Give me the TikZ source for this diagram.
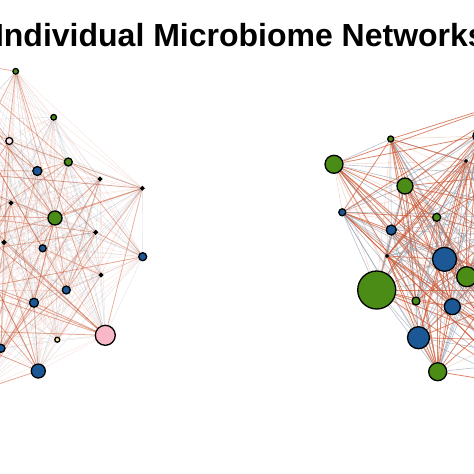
\documentclass[tikz,border=0pt]{standalone}
\usepackage{fontspec}
\setmainfont{Liberation Sans}
\usetikzlibrary{backgrounds}
\definecolor{netgreen}{RGB}{74,140,22}
\definecolor{netblue}{RGB}{28,88,150}
\definecolor{netpink}{RGB}{248,184,200}
\definecolor{netpale}{RGB}{252,228,234}
\definecolor{netyellow}{RGB}{245,228,160}
\definecolor{edgeorange}{RGB}{204,84,46}
\definecolor{edgegrey}{RGB}{128,142,160}
\definecolor{edgepink}{RGB}{226,160,140}
\tikzset{
    netnode/.style={circle, draw=black, line width=1.3pt, inner sep=0pt},
    title/.style={font=\fontsize{32}{38}\selectfont\bfseries, inner sep=0pt, anchor=base},
    lpink/.style={draw=edgepink, opacity=0.3, line width=0.4pt},
    lgrey/.style={draw=edgegrey, opacity=0.25, line width=0.4pt},
    lbold/.style={draw=edgeorange, opacity=0.45, line width=0.8pt},
    rred/.style={draw=edgeorange, opacity=0.7, line width=0.8pt},
    rgrey/.style={draw=edgegrey, opacity=0.55, line width=0.6pt},
    rpale/.style={draw=edgepink, opacity=0.45, line width=0.5pt},
    lmix/.code={\ifcase#1\relax\or\tikzset{lpink}\or\tikzset{lpink}\or\tikzset{lpink}\or\tikzset{lpink}\or\tikzset{lpink}\or\tikzset{lgrey}\or\tikzset{lgrey}\or\tikzset{lgrey}\or\tikzset{lgrey}\or\tikzset{lbold}\fi},
    rmix/.code={\ifcase#1\relax\or\tikzset{rred}\or\tikzset{rred}\or\tikzset{rred}\or\tikzset{rgrey}\or\tikzset{rgrey}\or\tikzset{rgrey}\or\tikzset{rpale}\fi}
}
\begin{document}
\begin{tikzpicture}[x=1pt, y=-1pt]
    \useasboundingbox (0,0) rectangle (474,474);
    \clip (0,0) rectangle (474,474);

    % Title
    \node[title] (title) at (240.4,46.5) {Individual Microbiome Networks};

    % Left network
    \foreach \n/\x/\y/\r/\c in {
        1/15.7/71.3/2.8/netgreen, 2/53.7/117.3/2.8/netgreen, 3/9.3/141/3.5/netpale,
        4/68.3/162/4/netgreen, 5/37.3/171/4.5/netblue, 6/100/179/1.8/black,
        7/142.3/188.3/1.6/black, 8/11/203/1.8/black, 9/55/218/7/netgreen,
        10/95.7/232.3/1.8/black, 11/4/242.3/1.8/black, 12/42.7/248.3/3.5/netblue,
        13/142.7/256.7/4/netblue, 14/101/275/1.8/black, 15/66.3/290/4/netblue,
        16/34/302.7/4.5/netblue, 17/105.3/335.3/10/netpink, 18/57.3/339.7/2.5/netyellow,
        19/1/348.3/4/netblue, 20/38.3/371/7/netblue}
        \node[netnode, minimum size=2*\r pt, fill=\c] (L\n) at (\x,\y) {};
    \foreach \n/\x/\y in {21/-50/60, 22/-30/120, 23/-70/170, 24/-40/215,
        25/-80/260, 26/-30/290, 27/-60/330, 28/-20/390}
        \coordinate (L\n) at (\x,\y);

    % Right network
    \foreach \n/\x/\y/\r/\c in {
        1/390.7/139/3/netgreen, 2/334/164.3/9/netgreen, 3/405/186/8/netgreen,
        4/342.3/212.3/3.5/netblue, 5/436.7/217.3/4/netgreen, 6/391.3/230/5/netblue,
        7/444.5/259.3/12/netblue, 8/466.7/276.7/10/netgreen, 9/376.7/290/19/netgreen,
        10/416/301/4/netgreen, 11/452.3/306.7/8/netblue, 12/418.5/337.7/11/netblue,
        13/437.7/371.7/9/netgreen, 14/479/136/6/netblue, 15/387/256/1.2/black,
        16/466/161/1.2/black}
        \node[netnode, minimum size=2*\r pt, fill=\c] (R\n) at (\x,\y) {};
    \foreach \n/\x/\y in {17/530/95, 18/510/175, 19/545/215, 20/495/235,
        21/530/290, 22/505/340, 23/550/360, 24/520/385}
        \coordinate (R\n) at (\x,\y);

    % Edges
    \begin{scope}[on background layer]
        \clip (0,0) rectangle (474,474);
        \pgfmathsetseed{12}
        \foreach \i in {1,...,27}{
            \pgfmathtruncatemacro\nxt{\i+1}
            \foreach \j in {\nxt,...,28}{
                \pgfmathrandominteger{\k}{1}{10}
                \draw[lmix=\k] (L\i) -- (L\j);
            }
        }
        \foreach \a/\b in {21/9, 23/9, 24/9, 24/17, 25/17, 26/17, 27/17, 23/17,
            24/20, 27/20, 28/20, 26/20, 25/16, 22/5, 26/13, 23/7, 16/17, 11/17}
            \draw[lbold] (L\a) -- (L\b);
        \foreach \i in {1,...,23}{
            \pgfmathtruncatemacro\nxt{\i+1}
            \foreach \j in {\nxt,...,24}{
                \pgfmathrandominteger{\k}{1}{7}
                \draw[rmix=\k] (R\i) -- (R\j);
            }
        }
    \end{scope}
\end{tikzpicture}
\end{document}
